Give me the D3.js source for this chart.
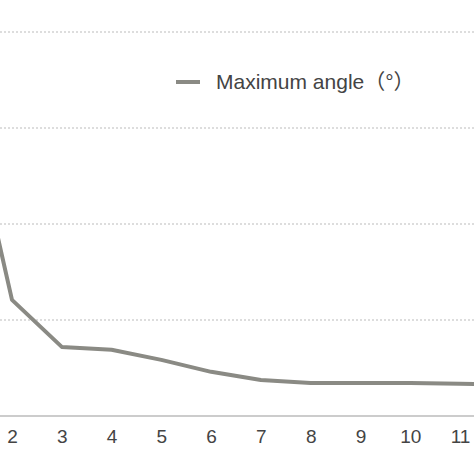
<!DOCTYPE html>
<html><head><meta charset="utf-8">
<script src="https://cdn.jsdelivr.net/npm/d3@7"></script>
<style>body{margin:0;background:#fff}svg{display:block;overflow:hidden}</style>
</head><body><div class="contain"></div>
<script>
const xs = [1, 2, 3, 4, 5, 6, 7, 8, 9, 10, 11, 12];
const angle = [70, 24.2, 14.4, 13.8, 11.7, 9.2, 7.5, 6.9, 6.9, 6.9, 6.7, 6.6];
const xTicks = [2, 3, 4, 5, 6, 7, 8, 9, 10, 11];
const yGrid = [20, 40, 60, 80];
const seriesName = "Maximum angle（°）";

const svg_width = 474, svg_height = 474;
let svg = d3.select(".contain").append("svg")
  .attr("width", svg_width).attr("height", svg_height);

let xScale = d3.scaleLinear().domain([2, 11]).range([12, 460]);
let yScale = d3.scaleLinear().domain([0, 80]).range([416, 32]);

// dotted grid
svg.selectAll(".grid").data(yGrid).enter().append("line")
  .attr("x1", 0).attr("x2", svg_width)
  .attr("y1", d => yScale(d)).attr("y2", d => yScale(d))
  .attr("stroke", "#bbb").attr("stroke-width", 1).attr("stroke-dasharray", "2,2");

// x axis
let xAxis = d3.axisBottom(xScale).tickValues(xTicks).tickSize(0).tickPadding(14);
let gx = svg.append("g").attr("transform", `translate(0, ${yScale(0)})`).call(xAxis);
gx.select(".domain").attr("d", `M0,0H${svg_width}`).attr("stroke", "#999");
gx.selectAll("text").attr("font-family", "Liberation Sans, Arial, sans-serif")
  .attr("font-size", 19).attr("fill", "#444");

// line
let line = d3.line().x((d, i) => xScale(xs[i])).y(d => yScale(d));
svg.append("path").datum(angle).attr("d", line)
  .attr("fill", "none").attr("stroke", "#8a8a84").attr("stroke-width", 4)
  .attr("stroke-linejoin", "round");

// legend
svg.append("line").attr("x1", 176).attr("x2", 200).attr("y1", 82).attr("y2", 82)
  .attr("stroke", "#8a8a84").attr("stroke-width", 4);
svg.append("text").attr("x", 216).attr("y", 89).text(seriesName)
  .attr("font-family", "Liberation Sans, 'Noto Sans CJK SC', sans-serif")
  .attr("font-size", 21).attr("fill", "#444");
</script></body></html>
